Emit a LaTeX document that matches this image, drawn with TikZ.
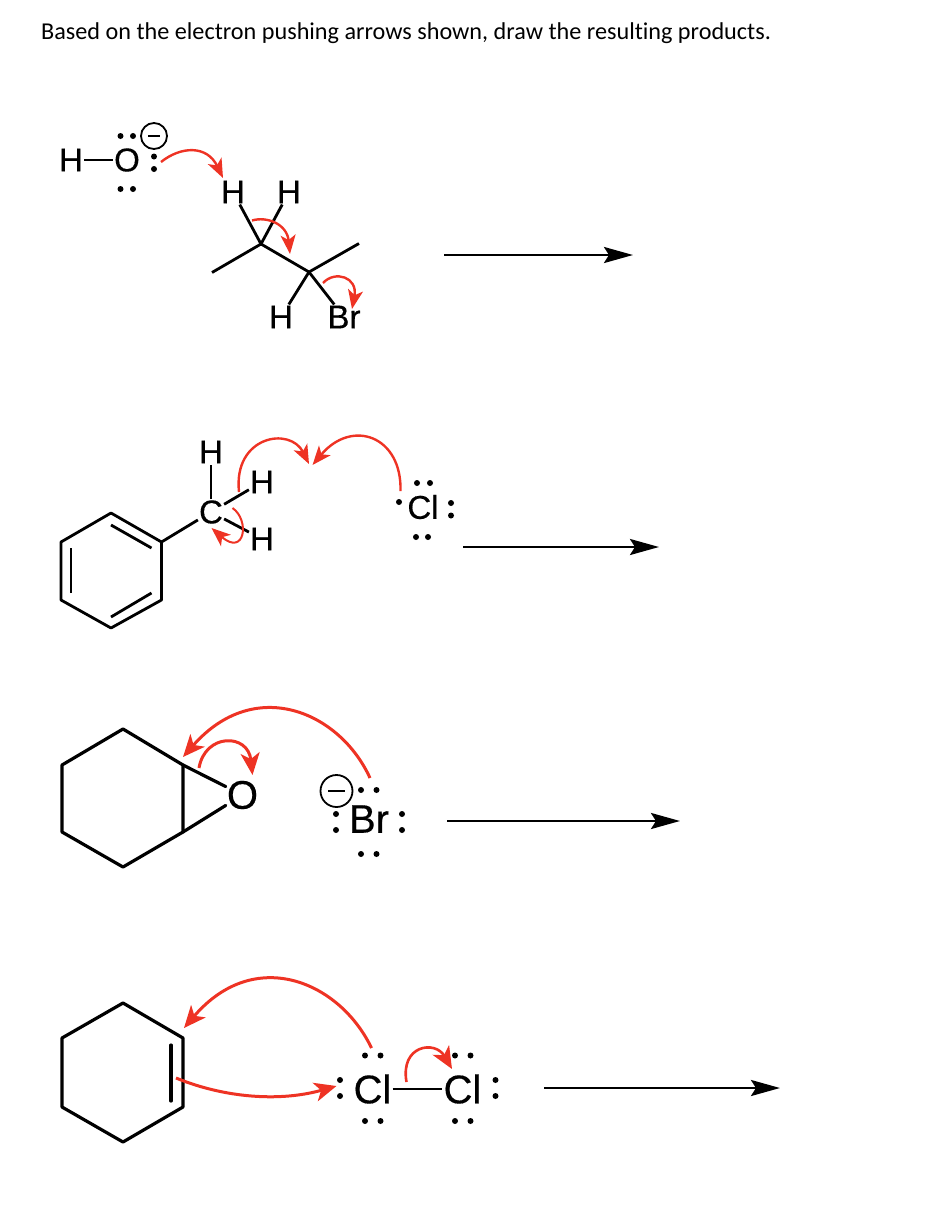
\documentclass[tikz,border=0pt]{standalone}
\usepackage{fontspec}
\setmainfont{Liberation Sans}
\newfontfamily\headfont[Ligatures=NoCommon]{Carlito}
\newfontfamily\atomfont[FakeBold=0.35]{Liberation Sans}
\usepackage{tikz}
\usetikzlibrary{arrows.meta}
\tikzstyle{atom} = [inner sep=1pt, font=\atomfont\fontsize{33}{33}\selectfont]
\tikzstyle{bigatom} = [inner sep=1pt, font=\atomfont\fontsize{40}{40}\selectfont]
\tikzstyle{lonepair} = [circle, fill=black, inner sep=0pt, minimum size=6pt]
\tikzstyle{charge} = [circle, draw=black, line width=1.8pt, inner sep=0pt]
\tikzstyle{bond} = [line width=3.2pt, line cap=round, line join=round]
\tikzstyle{thinbond} = [line width=2.8pt]
\tikzstyle{reaction} = [line width=2.6pt, -{Stealth[length=29pt,width=16pt,inset=5pt]}]
\tikzstyle{push} = [line width=3pt, draw=pushred, -{Stealth[length=22pt,width=19pt,inset=6pt]}]
\tikzstyle{smallpush} = [line width=2.4pt, draw=pushred, -{Stealth[length=19pt,width=15pt,inset=5pt]}]
\definecolor{pushred}{RGB}{238,51,36}
\begin{document}
\begin{tikzpicture}[x=1pt, y=-1pt]
\useasboundingbox (0,0) rectangle (940,1208);
% Title
\node[anchor=west, inner sep=0pt, font=\headfont\fontsize{24.2}{25}\selectfont] (title) at (41,33.5) {Based on the electron pushing arrows shown, draw the resulting products.};

%Hydroxide
\node[atom] (h1) at (71,160) {H};
\node[atom] (o1) at (127,160) {O};
\draw[thinbond] (h1) -- (o1);
\node[lonepair] (o1a) at (120.5,136) {};
\node[lonepair] (o1b) at (133,136) {};
\node[lonepair] (o1c) at (154,156.5) {};
\node[lonepair] (o1d) at (154,169) {};
\node[lonepair] (o1e) at (120.5,189) {};
\node[lonepair] (o1f) at (133,189) {};
\node[charge, minimum size=26pt] (minus1) at (154,136) {};
\draw[line width=1.8pt] (148,136)--(160,136);

%Bromoalkane
\node[atom] (h2) at (233,192) {H};
\node[atom] (h3) at (289,192) {H};
\node[atom] (h4) at (281,317) {H};
\node[atom] (br1) at (344,317) {Br};
\coordinate (c1) at (261,244);
\coordinate (c2) at (309,272);
\coordinate (c3) at (212,272.5);
\coordinate (c4) at (359,243.5);
\draw[thinbond] (h2) -- (c1);
\draw[thinbond] (h3) -- (c1);
\draw[thinbond] (c3) -- (c1) -- (c2) -- (c4);
\draw[thinbond] (c2) -- (h4);
\draw[thinbond] (c2) -- (br1);
\coordinate (a1) at (161,162);
\coordinate (a1b) at (223,178);
\coordinate (a2) at (252,220.5);
\coordinate (a2b) at (290,254);
\coordinate (a3) at (323,283);
\coordinate (a3b) at (352,309);
\draw[smallpush] (a1) .. controls (181,146) and (207,145) .. (a1b);
\draw[smallpush] (a2) .. controls (267,216) and (287,224) .. (a2b);
\draw[smallpush] (a3) .. controls (335,270) and (358,277) .. (a3b);
\coordinate (arrow1a) at (444,255);
\coordinate (arrow1b) at (633,255);
\draw[reaction] (arrow1a) -- (arrow1b);

%Toluene radical
\coordinate (b1) at (111,513);
\coordinate (b2) at (161.5,542);
\coordinate (b3) at (161.5,600);
\coordinate (b4) at (111,628);
\coordinate (b5) at (61,600);
\coordinate (b6) at (61,542);
\draw[thinbond, line join=round] (b1) -- (b2) -- (b3) -- (b4) -- (b5) -- (b6) -- cycle;
\coordinate (b7) at (111,525);
\coordinate (b8) at (151.5,548);
\coordinate (b9) at (151.5,593);
\coordinate (b10) at (111,617);
\coordinate (b11) at (71,593);
\coordinate (b12) at (71,548);
\draw[thinbond] (b7) -- (b8);
\draw[thinbond] (b9) -- (b10);
\draw[thinbond] (b11) -- (b12);
\node[atom] (c5) at (211,512) {C};
\node[atom] (h5) at (211,452) {H};
\node[atom] (h6) at (262,482) {H};
\node[atom] (h7) at (262,539) {H};
\draw[thinbond] (b2) -- (c5);
\draw[thinbond] (c5) -- (h5);
\draw[thinbond] (c5) -- (h6);
\draw[thinbond] (c5) -- (h7);
\node[atom] (cl1) at (423,507) {Cl};
\node[lonepair] (cl1a) at (417,483) {};
\node[lonepair] (cl1b) at (430,483) {};
\node[lonepair] (cl1c) at (399,502) {};
\node[lonepair] (cl1d) at (451,503) {};
\node[lonepair] (cl1e) at (451,515.5) {};
\node[lonepair] (cl1f) at (416,537) {};
\node[lonepair] (cl1g) at (428,537) {};
\coordinate (a4) at (239,492);
\coordinate (a5) at (309,464);
\coordinate (a6) at (400.5,491);
\coordinate (a7) at (312.5,465);
\coordinate (a8) at (232.5,508);
\coordinate (a9) at (211.5,528);
\draw[smallpush] (a4) .. controls (233,436) and (290,426) .. (a5);
\draw[smallpush] (a6) .. controls (402,436) and (352,418) .. (a7);
\draw[smallpush, line width=2pt] (a8) .. controls (250,520) and (245,557) .. (a9);
\coordinate (arrow2a) at (463,547);
\coordinate (arrow2b) at (659,547);
\draw[reaction] (arrow2a) -- (arrow2b);

%Epoxide
\coordinate (e1) at (123,729);
\coordinate (e2) at (183,765);
\coordinate (e3) at (183,832);
\coordinate (e4) at (123,867);
\coordinate (e5) at (62,832);
\coordinate (e6) at (62,765);
\draw[bond] (e1) -- (e2) -- (e3) -- (e4) -- (e5) -- (e6) -- cycle;
\node[bigatom] (o2) at (242.5,795) {O};
\draw[bond] (e2) -- (o2);
\draw[bond] (e3) -- (o2);
\node[bigatom] (br2) at (369,819) {Br};
\node[charge, minimum size=32pt] (minus2) at (336.5,791) {};
\draw[line width=1.8pt] (328,791)--(345,791);
\node[lonepair] (br2a) at (361,790) {};
\node[lonepair] (br2b) at (376.5,790) {};
\node[lonepair] (br2c) at (336,814) {};
\node[lonepair] (br2d) at (336,830) {};
\node[lonepair] (br2e) at (402,814) {};
\node[lonepair] (br2f) at (402,830) {};
\node[lonepair] (br2g) at (361,854) {};
\node[lonepair] (br2h) at (376.5,854) {};
\coordinate (a10) at (370,778);
\coordinate (a11) at (183,757);
\coordinate (a12) at (199,768);
\coordinate (a13) at (252.5,775);
\draw[push] (a10) .. controls (340,712) and (255,675) .. (a11);
\draw[push] (a12) .. controls (205,733) and (248,733) .. (a13);
\coordinate (arrow3a) at (447,821);
\coordinate (arrow3b) at (680,821);
\draw[reaction] (arrow3a) -- (arrow3b);

%Cyclohexene
\coordinate (f1) at (123,1003);
\coordinate (f2) at (183,1038);
\coordinate (f3) at (183,1107);
\coordinate (f4) at (123,1142);
\coordinate (f5) at (62,1107);
\coordinate (f6) at (62,1038);
\draw[bond] (f1) -- (f2) -- (f3) -- (f4) -- (f5) -- (f6) -- cycle;
\coordinate (f7) at (171,1045);
\coordinate (f8) at (171,1101);
\draw[bond] (f7) -- (f8);
\node[bigatom] (cl2) at (372.5,1089) {Cl};
\node[bigatom] (cl3) at (462.5,1089) {Cl};
\draw[thinbond] (cl2) -- (cl3);
\node[lonepair] (cl2a) at (340,1080) {};
\node[lonepair] (cl2b) at (340,1096) {};
\node[lonepair] (cl2c) at (365,1055.5) {};
\node[lonepair] (cl2d) at (380.5,1055.5) {};
\node[lonepair] (cl2e) at (365,1121) {};
\node[lonepair] (cl2f) at (380.5,1121) {};
\node[lonepair] (cl3a) at (455,1055.5) {};
\node[lonepair] (cl3b) at (470.5,1055.5) {};
\node[lonepair] (cl3c) at (455,1121) {};
\node[lonepair] (cl3d) at (470.5,1121) {};
\node[lonepair] (cl3e) at (495.5,1080) {};
\node[lonepair] (cl3f) at (495.5,1096) {};
\coordinate (a14) at (371.5,1048);
\coordinate (a15) at (184,1028);
\coordinate (a16) at (176,1078);
\coordinate (a17) at (336.5,1086);
\coordinate (a18) at (406.5,1082);
\coordinate (a19) at (452,1069);
\draw[push] (a14) .. controls (340,982) and (255,945) .. (a15);
\draw[push] (a16) .. controls (225,1098) and (280,1102) .. (a17);
\draw[push, line width=2.6pt] (a18) .. controls (400,1045) and (435,1040) .. (a19);
\coordinate (arrow4a) at (544,1088);
\coordinate (arrow4b) at (780,1088);
\draw[reaction] (arrow4a) -- (arrow4b);

\end{tikzpicture}
\end{document}
